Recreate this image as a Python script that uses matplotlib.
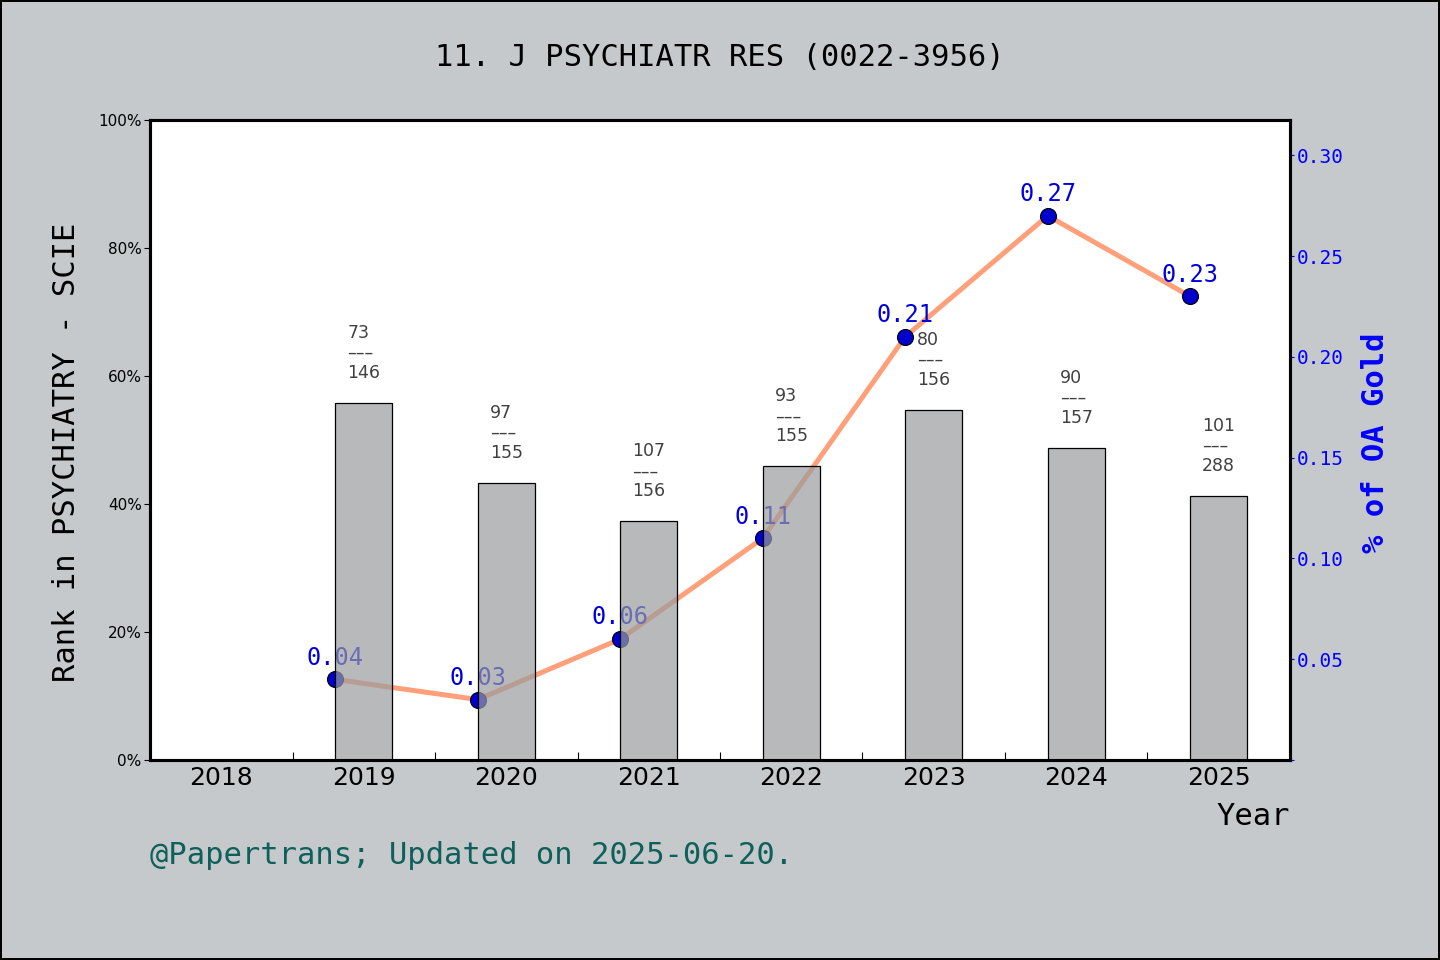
import matplotlib
matplotlib.use('Agg')
import matplotlib.pyplot as plt
import numpy as np

years = ['2018', '2019', '2020', '2021', '2022', '2023', '2024', '2025']
rank_pct = [np.nan, 55.8, 43.3, 37.3, 45.9, 54.7, 48.75, 41.25]
rank_no = ['', '73', '97', '107', '93', '80', '90', '101']
rank_total = ['', '146', '155', '156', '155', '156', '157', '288']
oa_gold = [np.nan, 0.04, 0.03, 0.06, 0.11, 0.21, 0.27, 0.23]
oa_labels = ['', '0.04', '0.03', '0.06', '0.11', '0.21', '0.27', '0.23']

MONO = 'DejaVu Sans Mono'
BG = '#c5c9cc'
BAR_W = 0.4


def main():
    fig = plt.figure(figsize=(14.4, 9.6), dpi=100, facecolor=BG,
                     edgecolor='black', linewidth=1.5)
    ax = fig.add_axes([0.1042, 0.2083, 0.7916, 0.6667])
    ax2 = ax.twinx()

    # line axis sits underneath so the translucent bars cover it
    ax2.set_zorder(0)
    ax.set_zorder(1)
    ax.patch.set_visible(False)
    ax2.patch.set_visible(True)
    ax2.set_facecolor('white')

    x = np.arange(len(years))
    xl = x - BAR_W / 2  # points sit on the left edge of each bar

    # line of OA Gold share
    ax2.plot(xl, oa_gold, color='#ffa07a', lw=3.6, zorder=2)
    ax2.plot(xl, oa_gold, 'o', ms=11.5, mfc='#0000cd', mec='black', mew=0.8, zorder=3)
    for xi, v, lab in zip(xl, oa_gold, oa_labels):
        if lab:
            ax2.annotate(lab, (xi, v), xytext=(0, 7), textcoords='offset points',
                         ha='center', va='bottom', color='#0000dd',
                         fontsize=17, family=MONO)
    ax2.set_ylim(0, 0.3175)
    ax2.set_yticks([0, 0.05, 0.10, 0.15, 0.20, 0.25, 0.30])
    ax2.set_yticklabels(['', '0.05', '0.10', '0.15', '0.20', '0.25', '0.30'])
    ax2.tick_params(axis='y', colors='blue', labelsize=14, length=3, width=0.8, pad=2)
    for t in ax2.get_yticklabels():
        t.set_family(MONO)

    # bars of rank percentage
    ax.bar(x, rank_pct, width=BAR_W, color=(0.604, 0.612, 0.624, 0.7),
           edgecolor='black', linewidth=0.9, zorder=2)
    for xi, v, a, b in zip(x, rank_pct, rank_no, rank_total):
        if a:
            ax.annotate(a + '\n\u2013\u2013\u2013\n' + b, (xi, v), xytext=(0, 15),
                        textcoords='offset points', ha='center', va='bottom',
                        multialignment='left', linespacing=1.15,
                        color='#404040', fontsize=12.5)
    ax.set_ylim(0, 100)
    ax.set_xlim(-0.5, 7.5)
    ax.set_yticks([0, 20, 40, 60, 80, 100])
    ax.set_yticklabels(['0%', '20%', '40%', '60%', '80%', '100%'])
    ax.tick_params(axis='y', labelsize=11, length=4, width=0.8, pad=2)

    # ticks between categories, labels at centers
    ax.set_xticks(np.arange(-0.5, 8, 1))
    ax.set_xticklabels([])
    ax.tick_params(axis='x', which='major', direction='in', length=6, width=0.8)
    ax.set_xticks(x, minor=True)
    ax.set_xticklabels(years, minor=True)
    ax.tick_params(axis='x', which='minor', length=0, labelsize=18, pad=4)

    for ax_ in (ax, ax2):
        for s in ax_.spines.values():
            s.set_linewidth(2.2)
            s.set_color('black')

    fig.text(0.5, 0.94, '11. J PSYCHIATR RES (0022-3956)', ha='center', va='center',
             fontsize=22, family=MONO)
    fig.text(0.0465, 0.529, 'Rank in PSYCHIATRY - SCIE', rotation=90,
             ha='center', va='center', fontsize=22, family=MONO)
    fig.text(0.955, 0.5385, '% of OA Gold', rotation=90, ha='center', va='center',
             fontsize=22, family=MONO, weight='bold', color='blue')
    fig.text(0.8958, 0.149, 'Year', ha='right', va='center', fontsize=22, family=MONO)
    fig.text(0.104, 0.109, '@Papertrans; Updated on 2025-06-20.', ha='left',
             va='center', fontsize=22, family=MONO, color='#0f5f5a')

    fig.savefig('out.png', dpi=100, facecolor=BG, edgecolor='black')


if __name__ == '__main__':
    main()
